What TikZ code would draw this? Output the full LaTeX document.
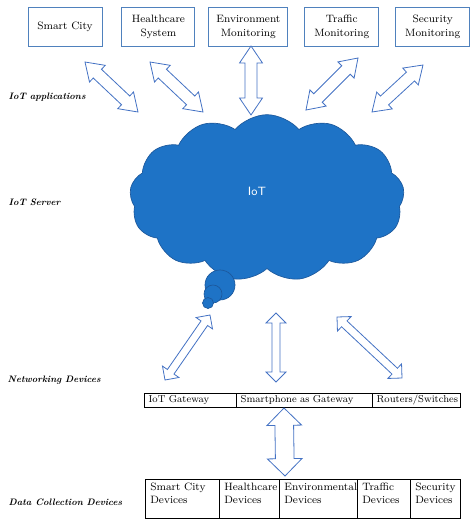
\documentclass[tikz,border=0pt]{standalone}
\usetikzlibrary{positioning,calc,shapes.symbols}

\definecolor{boxblue}{RGB}{79,129,189}
\definecolor{arrblue}{RGB}{68,114,196}
\definecolor{cloudblue}{RGB}{30,115,198}
\definecolor{cloudline}{RGB}{28,88,156}

% hollow double arrow: from, to, half shaft, half head, head length
\newcommand{\dblarrow}[5]{%
  \draw[arrow line] (#1) -- ($(#1)!#5!(#2)!#4!90:(#2)$) -- ($(#1)!#5!(#2)!#3!90:(#2)$)
    -- ($(#2)!#5!(#1)!#3!-90:(#1)$) -- ($(#2)!#5!(#1)!#4!-90:(#1)$) -- (#2)
    -- ($(#2)!#5!(#1)!#4!90:(#1)$) -- ($(#2)!#5!(#1)!#3!90:(#1)$)
    -- ($(#1)!#5!(#2)!#3!-90:(#2)$) -- ($(#1)!#5!(#2)!#4!-90:(#2)$) -- cycle;}

\begin{document}
\begin{tikzpicture}[x=0.75pt,y=-0.75pt,node distance=12pt,
    app box/.style={draw=boxblue,line width=0.7pt,minimum width=55.5pt,minimum height=29.25pt,
                    align=center,inner sep=1pt,font=\fontsize{8}{10.5}\selectfont},
    arrow line/.style={draw=arrblue,fill=white,line width=0.6pt,line join=miter},
    level tag/.style={anchor=west,font=\fontsize{7}{8}\selectfont\bfseries\itshape},
    net cell/.style={draw,line width=0.6pt,minimum height=10.5pt,inner xsep=3.5pt,inner ysep=0pt,
                     outer sep=0pt,align=left,font=\fontsize{7.5}{9}\selectfont},
    dev cell/.style={draw,line width=0.6pt,inner xsep=4pt,inner ysep=2pt,outer sep=0pt,
                     text height=6.25pt,text depth=19pt,align=left,font=\fontsize{8}{9.75}\selectfont},
    bubble/.style={fill=cloudblue,draw=cloudline,line width=0.5pt}]

  \useasboundingbox (0,0) rectangle (474,526);

  % applications
  \node[app box] (city) at (65,26.5) {Smart City};
  \node[app box, minimum width=54.75pt] (health) [right=14.25pt of city] {Healthcare\\System};
  \node[app box, minimum width=59.25pt] (env) [right=9.75pt of health] {Environment\\Monitoring};
  \node[app box] (traffic) [right=12pt of env] {Traffic\\Monitoring};
  \node[app box] (security) [right=12pt of traffic] {Security\\Monitoring};

  % server cloud
  \node[cloud, cloud puffs=13, cloud puff arc=100, aspect=1.6, fill=cloudblue, draw=cloudline, line width=0.5pt,
        minimum width=206pt, minimum height=125pt,
        label={[text=white, font=\sffamily\fontsize{9}{10}\selectfont, xshift=-7.5pt, yshift=5pt]center:IoT}]
        (iot) at (267,198) {};
  \draw[bubble] (220,285) circle[radius=15];
  \draw[bubble] (213,294) circle[radius=9];
  \draw[bubble] (208,303) circle[radius=5.5];

  % networking devices
  \node[net cell, text width=62pt, anchor=north west] (gw) at (144,393) {IoT Gateway};
  \node[net cell, text width=95pt, right=0pt of gw] (phone) {Smartphone as Gateway};
  \node[net cell, text width=59pt, right=0pt of phone] (router) {Routers/Switches};

  % data collection devices
  \node[dev cell, text width=47.5pt, anchor=north west] (dcity) at (145,479) {Smart City\\Devices};
  \node[dev cell, text width=37pt, right=0pt of dcity] (dhealth) {Healthcare\\Devices};
  \node[dev cell, text width=50.5pt, right=0pt of dhealth] (denv) {Environmental\\Devices};
  \node[dev cell, text width=31.75pt, right=0pt of denv] (dtraffic) {Traffic\\Devices};
  \node[dev cell, text width=29.5pt, right=0pt of dtraffic] (dsecurity) {Security\\Devices};

  % level tags
  \node[level tag] (tapp) at (4,97) {IoT applications};
  \node[level tag] (tsrv) at (4,202) {IoT Server};
  \node[level tag] (tnet) at (3,380) {Networking Devices};
  \node[level tag] (tdev) at (4,502) {Data Collection Devices};

  % arrow ends
  \coordinate (a1) at (85,62);   \coordinate (b1) at (138,112);
  \coordinate (a2) at (150,62);  \coordinate (b2) at (203,112);
  \coordinate (a3) at (251,46);  \coordinate (b3) at (251,115);
  \coordinate (a4) at (358,58);  \coordinate (b4) at (306,110);
  \coordinate (a5) at (423,65);  \coordinate (b5) at (372,112);
  \coordinate (n1) at (210,315); \coordinate (m1) at (165,380);
  \coordinate (n2) at (276,313); \coordinate (m2) at (276,382);
  \coordinate (n3) at (337,317); \coordinate (m3) at (402,378);
  \coordinate (d1) at (284,408); \coordinate (e1) at (285,476);

  \dblarrow{a1}{b1}{4.5pt}{8.6pt}{12.75pt}
  \dblarrow{a2}{b2}{4.5pt}{8.6pt}{12.75pt}
  \dblarrow{a3}{b3}{4.5pt}{8.6pt}{12.75pt}
  \dblarrow{a4}{b4}{4.5pt}{8.6pt}{12.75pt}
  \dblarrow{a5}{b5}{4.5pt}{8.6pt}{12.75pt}
  \dblarrow{n1}{m1}{3pt}{7.5pt}{7.5pt}
  \dblarrow{n2}{m2}{3pt}{7.5pt}{7.5pt}
  \dblarrow{n3}{m3}{3pt}{7.5pt}{7.5pt}
  \dblarrow{d1}{e1}{7pt}{13pt}{13pt}
\end{tikzpicture}
\end{document}
